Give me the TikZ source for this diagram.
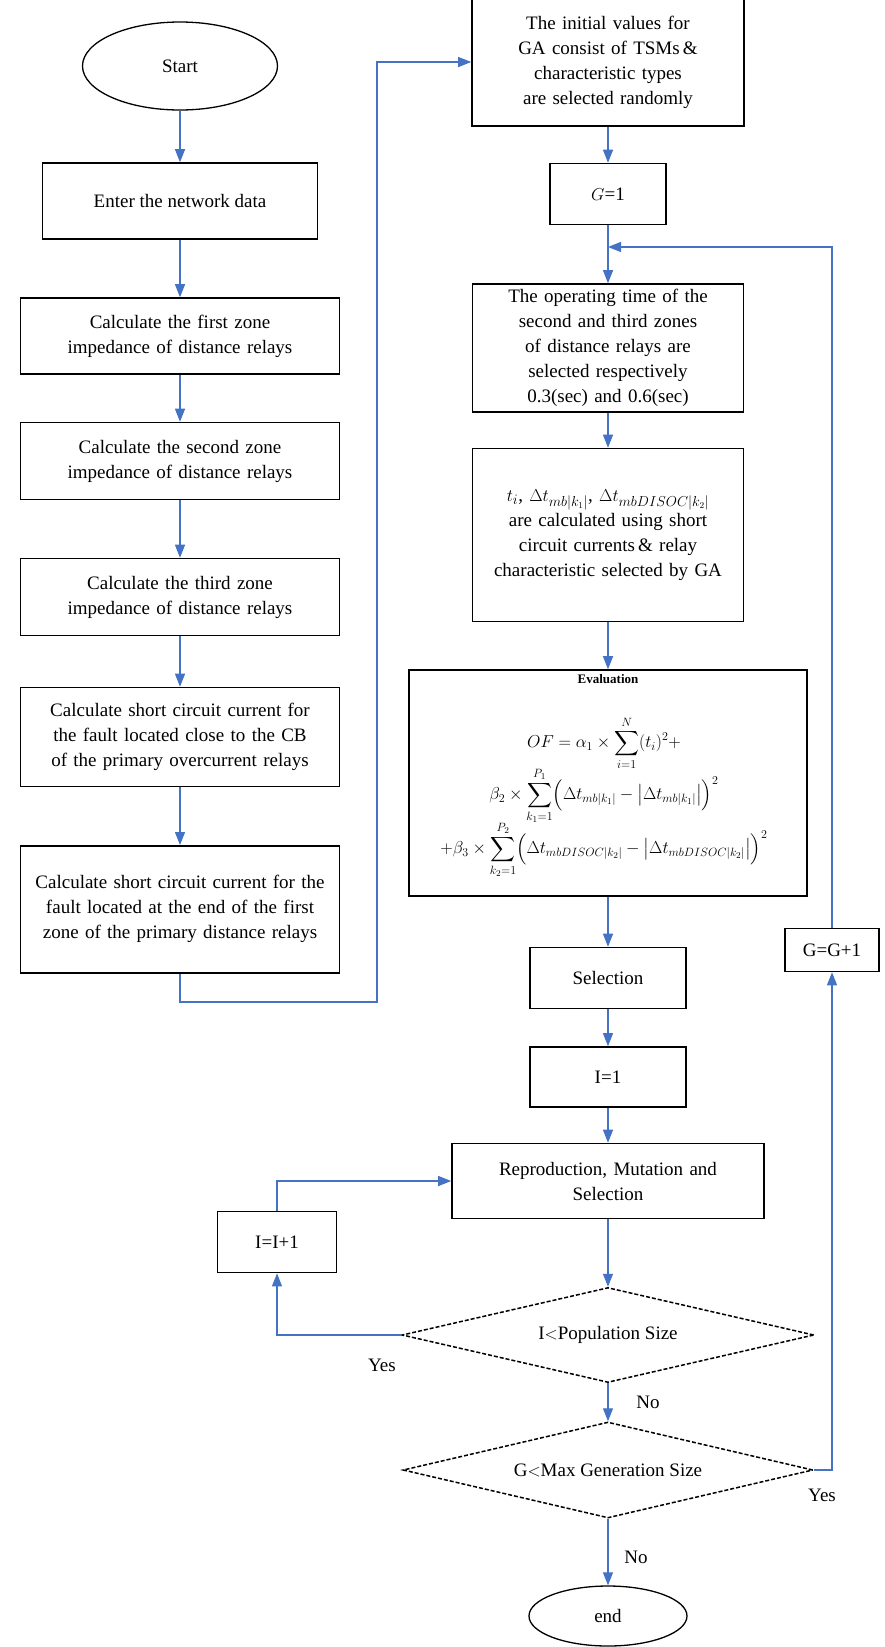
\documentclass[tikz,border=0pt]{standalone}
\usepackage{fontspec}
\setmainfont{Liberation Serif}
\usepackage{amsmath}
\usetikzlibrary{shapes.geometric,arrows.meta}
\definecolor{arrblue}{RGB}{68,114,196}
\begin{document}
\begin{tikzpicture}[x=1pt,y=-1pt,
  box/.style={draw=black,line width=1.6pt,rectangle,align=center,inner sep=2pt,font=\fontsize{19}{25}\selectfont},
  oval/.style={draw=black,line width=1.3pt,ellipse,font=\fontsize{19}{25}\selectfont},
  dec/.style={draw=black,line width=1.5pt,dash pattern=on 4pt off 2pt,diamond,aspect=4.3,inner sep=0pt,font=\fontsize{19}{25}\selectfont},
  arr/.style={draw=arrblue,line width=1.2pt,-{Triangle[length=13pt,width=10pt]}},
  lbl/.style={font=\fontsize{19}{22}\selectfont}]
\useasboundingbox (0,0) rectangle (885,1647);
% left column
\node[oval,minimum width=195,minimum height=88] (start) at (180,66) {Start};
\node[box,minimum width=275,minimum height=76] (b1) at (180,201) {Enter the network data};
\node[box,minimum width=319,minimum height=76,text width=300] (b2) at (180,336) {Calculate the first zone\\ impedance of distance relays};
\node[box,minimum width=319,minimum height=77,text width=300] (b3) at (180,461) {Calculate the second zone\\ impedance of distance relays};
\node[box,minimum width=319,minimum height=77,text width=300] (b4) at (180,597) {Calculate the third zone\\ impedance of distance relays};
\node[box,minimum width=319,minimum height=99,text width=305] (b5) at (180,737) {Calculate short circuit current for the fault located close to the CB of the primary overcurrent relays};
\node[box,minimum width=319,minimum height=127,text width=305,anchor=north] (b6) at (180,845) {Calculate short circuit current for the fault located at the end of the first zone of the primary distance relays\\[14pt]};
% right column
\node[box,minimum width=272,minimum height=128,text width=215] (ga) at (608,62) {The initial values for GA consist of TSMs\,\& characteristic types are selected randomly};
\node[box,minimum width=116,minimum height=61] (g1) at (608,194) {$G$=1};
\coordinate (jn) at (608,247);
\node[box,minimum width=271,minimum height=128,text width=235] (op) at (608,348) {The operating time of the second and third zones of distance relays are selected respectively 0.3(sec) and 0.6(sec)};
\node[box,minimum width=271,minimum height=173,text width=235] (tc) at (608,535) {$t_{i}$, $\Delta t_{mb|k_1|}$, $\Delta t_{mbDISOC|k_2|}$\\ are calculated using short circuit currents\,\& relay characteristic selected by GA};
\node[box,minimum width=398,minimum height=226] (ev) at (608,783) {};
\node[font=\fontsize{13}{15}\selectfont\bfseries] (evt) at (608,679) {Evaluation};
\node[font=\fontsize{18}{20}\selectfont] (evf) at (604,797) {$\displaystyle\begin{gathered}
OF=\alpha_1\times\sum_{i=1}^{N}(t_i)^2+\\[-6pt]
\beta_2\times\sum_{k_1=1}^{P_1}\Bigl(\Delta t_{mb|k_1|}-\bigl|\Delta t_{mb|k_1|}\bigr|\Bigr)^2\\[-6pt]
+\beta_3\times\sum_{k_2=1}^{P_2}\Bigl(\Delta t_{mbDISOC|k_2|}-\bigl|\Delta t_{mbDISOC|k_2|}\bigr|\Bigr)^2
\end{gathered}$};
\node[box,minimum width=156,minimum height=61] (sel) at (608,978) {Selection};
\node[box,minimum width=156,minimum height=60] (i1) at (608,1077) {I=1};
\node[box,minimum width=312,minimum height=75,text width=280] (rep) at (608,1181) {Reproduction, Mutation and\\ Selection};
\node[box,minimum width=119,minimum height=61] (ii) at (277,1242) {I=I+1};
\node[dec,minimum width=412,minimum height=95] (d1) at (608,1335) {I$<$Population Size};
\node[dec,minimum width=410,minimum height=96] (d2) at (608,1470) {G$<$Max Generation Size};
\node[oval,minimum width=158,minimum height=60] (end) at (608,1616) {end};
\node[box,minimum width=94,minimum height=43] (gg) at (832,950) {G=G+1};
% labels
\node[lbl] (yes1) at (382,1365) {Yes};
\node[lbl] (no1) at (648,1402) {No};
\node[lbl] (yes2) at (822,1495) {Yes};
\node[lbl] (no2) at (636,1557) {No};
% arrows left
\draw[arr] (start) -- (b1);
\draw[arr] (b1) -- (b2);
\draw[arr] (b2) -- (b3);
\draw[arr] (b3) -- (b4);
\draw[arr] (b4) -- (b5);
\draw[arr] (b5) -- (b6);
\draw[arr] (b6.south) |- (377,1002) |- (ga.west);
% right
\draw[arr] (ga) -- (g1);
\draw[arr] (g1) -- (op);
\draw[arr] (op) -- (tc);
\draw[arr] (tc) -- (ev);
\draw[arr] (ev) -- (sel);
\draw[arr] (sel) -- (i1);
\draw[arr] (i1) -- (rep);
\draw[arr] (rep.south) -- (d1.north);
\draw[arr] (d1.west) -| (ii.south);
\draw[arr] (ii.north) |- (rep.west);
\draw[arr] (d1.south) -- (d2.north);
\draw[arr] (d2.south) -- (end.north);
\draw[arr] (d2.east) -| (gg.south);
\draw[arr] (gg.north) |- (jn);
\end{tikzpicture}
\end{document}
